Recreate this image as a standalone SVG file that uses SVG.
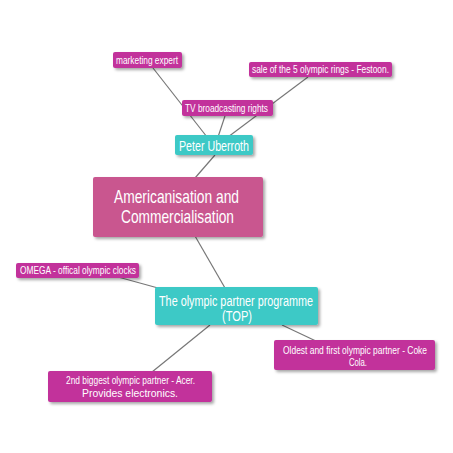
<svg xmlns="http://www.w3.org/2000/svg" width="453" height="453" viewBox="0 0 453 453">
<defs>
<filter id="sh" x="-10%" y="-20%" width="130%" height="160%">
<feDropShadow dx="2" dy="2" stdDeviation="1.5" flood-color="#000" flood-opacity="0.35"/>
</filter>
</defs>
<style>
.m{fill:#C2339B;filter:url(#sh)}
.c{fill:#3CC9C6;filter:url(#sh)}
.a{fill:#C9578F;filter:url(#sh)}
text{fill:#fff;font-family:"Liberation Sans Narrow","Liberation Sans",Arial,sans-serif;text-anchor:middle}
.s{font-size:11px}
.l{font-size:15px}
.t{font-size:14px}
.x{font-size:19px}
.e{stroke:#777;stroke-width:1.2;fill:none}
</style>
<rect width="453" height="453" fill="#fff"/>
<g id="connectors">
<line class="e" x1="153" y1="68" x2="207" y2="137"/>
<line class="e" x1="225" y1="116" x2="218" y2="137"/>
<line class="e" x1="308" y1="77" x2="228" y2="137"/>
<line class="e" x1="215" y1="155" x2="195" y2="178"/>
<line class="e" x1="195" y1="236" x2="225" y2="288"/>
<line class="e" x1="118" y1="277" x2="158" y2="288"/>
<line class="e" x1="210" y1="325" x2="152" y2="372"/>
<line class="e" x1="282" y1="325" x2="318" y2="342"/>
</g>
<g id="marketing">
<rect class="m" x="113" y="52" width="69" height="16" rx="2"/>
<text class="s" x="147" y="64" textLength="62" lengthAdjust="spacingAndGlyphs">marketing expert</text>
</g>
<g id="sale">
<rect class="m" x="249" y="62" width="143" height="15" rx="2"/>
<text class="s" x="320.5" y="73" textLength="137" lengthAdjust="spacingAndGlyphs">sale of the 5 olympic rings - Festoon.</text>
</g>
<g id="tv">
<rect class="m" x="182" y="100" width="91" height="16" rx="2"/>
<text class="s" x="226.5" y="112" textLength="83" lengthAdjust="spacingAndGlyphs">TV broadcasting rights</text>
</g>
<g id="peter">
<rect class="c" x="175" y="135" width="78" height="20" rx="2"/>
<text class="l" x="214" y="151" textLength="70" lengthAdjust="spacingAndGlyphs">Peter Uberroth</text>
</g>
<g id="americanisation">
<rect class="a" x="93" y="177" width="170" height="60" rx="2"/>
<text class="x" x="176.5" y="203" textLength="125" lengthAdjust="spacingAndGlyphs">Americanisation and</text>
<text class="x" x="177.5" y="223" textLength="113" lengthAdjust="spacingAndGlyphs">Commercialisation</text>
</g>
<g id="omega">
<rect class="m" x="16" y="263" width="123" height="15" rx="2"/>
<text class="s" x="78" y="274" textLength="116" lengthAdjust="spacingAndGlyphs">OMEGA - offical olympic clocks</text>
</g>
<g id="top">
<rect class="c" x="155" y="287" width="163" height="38" rx="2"/>
<text class="t" x="236" y="306" textLength="154" lengthAdjust="spacingAndGlyphs">The olympic partner programme</text>
<text class="t" x="237" y="321" textLength="30" lengthAdjust="spacingAndGlyphs">(TOP)</text>
</g>
<g id="oldest">
<rect class="m" x="274" y="340" width="161" height="30" rx="2"/>
<text class="s" x="355" y="354" textLength="144" lengthAdjust="spacingAndGlyphs">Oldest and first olympic partner - Coke</text>
<text class="s" x="358" y="366" textLength="18" lengthAdjust="spacingAndGlyphs">Cola.</text>
</g>
<g id="second">
<rect class="m" x="48" y="371" width="164" height="31" rx="2"/>
<text class="s" x="130.5" y="384" textLength="129" lengthAdjust="spacingAndGlyphs">2nd biggest olympic partner - Acer.</text>
<text class="s" x="130" y="397" textLength="96" lengthAdjust="spacingAndGlyphs">Provides electronics.</text>
</g>
</svg>
